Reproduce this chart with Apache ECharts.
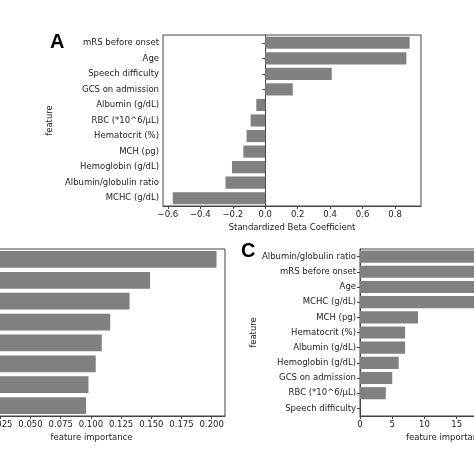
<!DOCTYPE html>
<html>
<head>
<meta charset="UTF-8">
<script src="https://cdn.jsdelivr.net/npm/echarts@6/dist/echarts.min.js"></script>
</head>
<body style="margin:0;background:#fff;">
<div id="main" style="width:474px;height:474px;"></div>
<script>
// panel A: standardized beta coefficient
var featA = ['mRS before onset','Age','Speech difficulty','GCS on admission','Albumin (g/dL)','RBC (*10^6/μL)','Hematocrit (%)','MCH (pg)','Hemoglobin (g/dL)','Albumin/globulin ratio','MCHC (g/dL)'];
var betaA = [0.89, 0.87, 0.41, 0.17, -0.055, -0.09, -0.115, -0.135, -0.205, -0.245, -0.57];
var ticksA = [-0.6, -0.4, -0.2, 0.0, 0.2, 0.4, 0.6, 0.8];
// panel B: feature importance (labels cropped off in the picture)
var featB = ['f1','f2','f3','f4','f5','f6','f7','f8'];
var impB = [0.204, 0.149, 0.132, 0.116, 0.109, 0.104, 0.098, 0.096];
var ticksB = [0.025, 0.05, 0.075, 0.1, 0.125, 0.15, 0.175, 0.2];
// panel C
var featC = ['Albumin/globulin ratio','mRS before onset','Age','MCHC (g/dL)','MCH (pg)','Hematocrit (%)','Albumin (g/dL)','Hemoglobin (g/dL)','GCS on admission','RBC (*10^6/μL)','Speech difficulty'];
var valC = [26, 24, 22, 19, 9, 7, 7, 6, 5, 4, 0];
var ticksC = [0, 5, 10, 15, 20, 25];

var font = 'DejaVu Sans';
var txt = {color:'#222', fontSize:8.5, fontFamily:font};
function valAxis(gi, min, max, ticks, name, dec) {
	return {
		type:'value', gridIndex:gi, min:min, max:max,
		name:name, nameLocation:'middle', nameGap:17, nameTextStyle:txt,
		splitLine:{show:false},
		axisLine:{show:true, lineStyle:{color:'#444'}},
		axisTick:{show:true, length:3, lineStyle:{color:'#444'}, customValues:ticks},
		axisLabel:Object.assign({margin:4, hideOverlap:false, customValues:ticks, formatter:function(v){return v.toFixed(dec).replace('-', '\u2212');}}, txt)
	};
}
function catAxis(gi, data, name, showName) {
	return {
		type:'category', gridIndex:gi, data:data, inverse:true,
		name:showName ? name : '', nameLocation:'middle', nameGap:showName, nameRotate:90, nameTextStyle:txt,
		axisLine:{show:true, lineStyle:{color:'#444'}},
		axisTick:{show:true, length:3, alignWithLabel:true, lineStyle:{color:'#444'}},
		axisLabel:Object.assign({margin:4, show:!!showName}, txt)
	};
}
var chart = echarts.init(document.getElementById('main'));
chart.setOption({
	animation:false,
	grid:[
		{left:163, right:53, top:35, bottom:268, outerBoundsMode:'none', show:true, borderColor:'#444', borderWidth:1},
		{left:-42, right:249, top:249, bottom:58, outerBoundsMode:'none', show:true, borderColor:'#444', borderWidth:1},
		{left:360, right:-60, top:249, bottom:58, outerBoundsMode:'none', show:true, borderColor:'#444', borderWidth:1}
	],
	xAxis:[
		valAxis(0, -0.63, 0.96, ticksA, 'Standardized Beta Coefficient', 1),
		valAxis(1, -0.01, 0.211, ticksB, 'feature importance', 3),
		valAxis(2, 0, 27, ticksC, 'feature importance', 0)
	],
	yAxis:[
		catAxis(0, featA, 'feature', 97),
		catAxis(1, featB, 'feature', 0),
		catAxis(2, featC, 'feature', 95)
	],
	series:[
		{type:'bar', xAxisIndex:0, yAxisIndex:0, data:betaA, barCategoryGap:'22%', itemStyle:{color:'#808080'}},
		{type:'bar', xAxisIndex:1, yAxisIndex:1, data:impB, barCategoryGap:'20%', itemStyle:{color:'#808080'}},
		{type:'bar', xAxisIndex:2, yAxisIndex:2, data:valC, barCategoryGap:'20%', itemStyle:{color:'#808080'}}
	],
	graphic:[
		{type:'text', left:50, top:32, style:{text:'A', font:'bold 20px Liberation Sans', fill:'#000'}},
		{type:'text', left:241, top:241, style:{text:'C', font:'bold 20px Liberation Sans', fill:'#000'}}
	]
});
</script>
</body>
</html>
